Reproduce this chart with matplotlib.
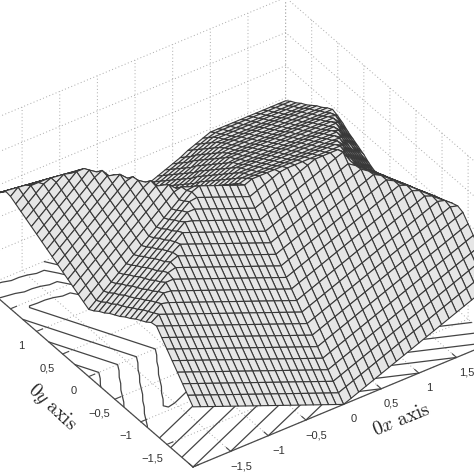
import matplotlib
matplotlib.use('Agg')
import matplotlib.pyplot as plt
from mpl_toolkits.mplot3d import proj3d
import numpy as np

x_ticks = [-2, -1.5, -1, -0.5, 0, 0.5, 1, 1.5, 2]
y_ticks = [-2, -1.5, -1, -0.5, 0, 0.5, 1, 1.5, 2]
z_ticks = [30, 63, 95, 128, 163]
x_labels = {-1.5: '\u22121,5', -1: '\u22121', -0.5: '\u22120,5', 0: '0', 0.5: '0,5', 1: '1', 1.5: '1,5'}
y_labels = {-1.5: '\u22121,5', -1: '\u22121', -0.5: '\u22120,5', 0: '0', 0.5: '0,5', 1: '1'}
contour_levels = [15, 30, 45, 60, 75, 90, 105, 120]

# surface heights, rows y = -2 ... 2, columns x = -2 ... 2 (step 0.1)
z_rows = [
[60,57,54,51,48,45,42,39,36,33,30,27,24,21,18,15,12,9,6,3,0,3,6,9,12,15,18,21,24,27,30,33,36,39,42,45,48,51,54,57,60],
[67,64,61,58,55,52,49,46,43,40,37,34,31,28,25,22,19,16,13,10,7,10,13,16,19,22,25,28,31,34,37,40,43,46,49,52,55,58,61,64,67],
[74,71,68,65,62,59,56,53,50,47,44,41,38,35,32,29,26,23,20,17,14,17,20,23,26,29,32,35,38,41,44,47,50,53,56,59,62,65,68,71,74],
[81,78,75,72,69,66,63,60,57,54,51,48,45,42,39,36,33,30,27,24,21,24,27,30,33,36,39,42,45,48,51,54,57,60,63,66,69,72,75,78,81],
[88,85,82,79,76,73,70,67,64,61,58,55,52,49,46,43,40,37,34,31,28,31,34,37,40,43,46,49,52,55,58,61,64,67,70,73,76,79,82,85,88],
[95,92,89,86,83,80,77,74,71,68,65,62,59,56,53,50,47,44,41,38,35,38,41,44,47,50,53,56,59,62,65,68,71,74,77,80,83,86,89,92,95],
[102,99,96,93,90,87,84,81,78,75,72,69,66,63,60,57,54,51,48,45,42,45,48,51,54,57,60,63,66,69,72,75,78,81,84,87,90,93,96,99,102],
[109,106,103,100,97,94,91,88,85,82,79,76,73,70,67,64,61,58,55,52,49,52,55,58,61,64,67,70,73,76,79,82,85,88,91,94,97,100,103,106,104],
[108,113,110,107,104,101,98,95,92,89,86,83,80,77,74,71,68,65,62,59,56,59,62,65,68,71,74,77,80,83,86,89,92,95,98,101,104,107,110,108,102],
[104,110,116,114,111,108,105,102,99,96,93,90,87,84,81,78,75,72,69,66,63,66,69,72,75,78,81,84,87,90,93,96,99,102,105,108,111,114,111,105,99],
[101,107,113,119,118,115,112,109,106,103,100,97,94,91,88,85,82,79,76,73,70,73,76,79,82,85,88,91,94,97,100,103,106,109,112,115,118,115,109,103,97],
[98,104,110,116,122,122,119,116,113,110,107,104,101,98,95,92,89,86,83,80,77,80,83,86,89,92,95,98,101,104,107,110,113,116,119,122,119,113,107,101,95],
[94,100,106,112,118,124,126,123,120,117,114,111,108,105,102,99,96,93,90,87,84,87,90,93,96,99,102,105,108,111,114,117,120,123,126,122,116,110,104,98,92],
[91,97,103,109,115,121,127,130,127,124,121,118,115,112,109,106,103,100,97,94,91,94,97,100,103,106,109,112,115,118,121,124,127,130,126,120,114,108,102,96,90],
[87,93,99,105,111,117,123,129,134,131,128,125,122,119,116,113,110,107,104,101,98,101,104,107,110,113,116,119,122,125,128,131,134,129,123,117,111,105,99,93,87],
[84,90,96,102,108,114,120,126,132,138,135,132,129,126,123,120,117,114,111,108,105,108,111,114,117,120,123,126,129,132,135,138,133,127,121,115,109,103,97,91,85],
[81,87,93,99,105,111,117,123,129,135,141,139,136,133,130,127,124,121,118,115,112,115,118,121,124,127,130,133,136,139,142,145,133,125,119,113,107,101,95,89,83],
[77,83,89,95,101,107,113,119,125,131,137,143,143,140,137,134,131,128,125,122,119,122,125,128,131,134,137,140,143,143,143,143,137,126,116,110,104,98,92,86,80],
[74,80,86,92,98,104,110,116,122,128,134,140,146,147,144,141,138,135,132,129,126,129,132,135,138,139,139,139,139,139,139,139,139,129,118,108,102,96,90,84,78],
[70,76,82,88,94,100,106,112,118,124,130,136,142,148,151,148,145,142,139,136,133,136,136,136,136,136,136,136,136,136,136,136,136,132,121,110,99,93,87,81,75],
[67,73,79,85,91,97,103,109,115,121,127,133,139,145,146,143,140,137,134,131,130,132,132,132,132,132,132,132,132,132,132,132,132,132,124,113,102,91,85,79,73],
[70,76,82,88,94,100,106,112,118,124,130,136,142,144,141,138,135,132,129,126,125,128,128,128,128,128,128,128,128,128,128,128,128,128,127,116,105,94,83,77,71],
[73,79,85,91,97,103,109,115,121,127,133,139,145,138,136,133,130,127,124,121,120,123,125,125,125,125,125,125,125,125,125,125,125,125,125,120,108,97,86,75,68],
[76,82,88,94,100,106,112,118,124,130,136,142,140,132,131,128,125,122,119,116,115,118,121,121,121,121,121,121,121,121,121,121,121,121,121,121,112,101,89,78,67],
[79,85,91,97,103,109,115,121,127,133,139,143,134,126,126,123,120,117,114,111,110,113,116,118,118,118,118,118,118,118,118,118,118,118,118,118,115,104,93,81,70],
[82,88,94,100,106,112,118,124,130,136,142,137,128,120,121,118,115,112,109,106,105,108,111,114,114,114,114,114,114,114,114,114,114,114,114,114,114,107,96,85,74],
[85,91,97,103,109,115,121,127,133,139,141,131,122,114,116,113,110,107,104,101,100,103,106,109,110,110,110,110,110,110,110,110,110,110,110,110,110,110,99,88,77],
[88,94,100,106,112,118,124,130,136,142,135,125,116,108,111,108,105,102,99,96,95,98,101,104,107,107,107,107,107,107,107,107,107,107,107,107,107,107,103,91,80],
[91,97,103,109,115,121,127,133,139,137,129,119,110,102,106,103,100,97,94,91,89,93,96,99,102,103,103,103,103,103,103,103,103,103,103,103,103,103,103,95,83],
[94,100,106,112,118,124,130,136,140,131,123,113,104,96,101,98,95,92,89,86,84,88,91,94,97,100,100,100,100,100,100,100,100,100,100,100,100,100,100,98,87],
[97,103,109,115,121,127,133,139,134,125,117,107,98,90,96,93,90,87,84,81,79,82,86,89,92,95,96,96,96,96,96,96,96,96,96,96,96,96,96,96,90],
[100,106,112,118,124,130,136,136,128,119,111,101,92,84,91,88,85,82,79,76,74,77,81,84,87,90,92,92,92,92,92,92,92,92,92,92,92,92,92,92,92],
[103,109,115,121,127,132,130,130,122,113,105,95,86,78,86,83,80,77,74,71,69,72,75,79,82,85,88,89,89,89,89,89,89,89,89,89,89,89,89,89,89],
[106,112,118,124,127,126,124,124,116,107,99,89,80,72,81,78,75,72,69,66,64,67,70,73,77,80,83,85,85,85,85,85,85,85,85,85,85,85,85,85,85],
[109,115,121,121,121,120,118,118,110,101,93,83,74,66,76,73,70,67,64,61,59,62,65,68,72,75,78,81,82,82,82,82,82,82,82,82,82,82,82,82,82],
[112,118,117,115,115,114,112,112,104,95,87,77,68,60,71,68,65,62,59,56,54,57,60,63,66,70,73,76,78,78,78,78,78,78,78,78,78,78,78,78,78],
[113,112,111,109,109,108,106,106,98,89,81,71,62,54,66,63,60,57,54,51,49,52,55,58,61,65,68,71,74,74,74,74,74,74,74,74,74,74,74,74,74],
[107,106,105,103,103,102,100,100,92,83,75,65,56,48,61,58,55,52,49,46,44,47,50,53,56,59,63,66,69,71,71,71,71,71,71,71,71,71,71,71,71],
[101,100,99,97,97,96,94,94,86,77,69,59,50,42,56,53,50,47,44,41,38,42,45,48,51,54,57,61,64,67,67,67,67,67,67,67,67,67,67,67,67],
[95,94,93,91,91,90,88,88,80,71,63,53,44,36,51,48,45,42,39,36,33,37,40,43,46,49,52,56,59,62,64,64,64,64,64,64,64,64,64,64,64],
[89,88,87,85,85,84,82,82,74,65,57,47,38,30,46,43,40,37,34,31,28,31,35,38,41,44,47,51,54,57,60,60,60,60,60,60,60,60,60,60,60],
]

plt.rcParams['font.family'] = ['Liberation Sans', 'DejaVu Sans']
plt.rcParams['mathtext.fontset'] = 'cm'
W = 474
fig = plt.figure(figsize=(W/100, W/100), dpi=100)
ax = fig.add_axes([0, 0, 1, 1], projection='3d', computed_zorder=False)
ax.set_proj_type('ortho')
ax.view_init(elev=36.9, azim=235.3)
ax.set_xlim(-2, 2, view_margin=0); ax.set_ylim(-2, 2, view_margin=0); ax.set_zlim(0, 163, view_margin=0)
ax.set_box_aspect((1, 1, 0.558))
ax.set_xticks(x_ticks); ax.set_yticks(y_ticks); ax.set_zticks(z_ticks)
ax.xaxis.set_major_formatter(plt.NullFormatter())
ax.yaxis.set_major_formatter(plt.NullFormatter())
ax.zaxis.set_major_formatter(plt.NullFormatter())
for a in (ax.xaxis, ax.yaxis, ax.zaxis):
    a.pane.set_visible(False)
    a._axinfo['grid'].update(color='#a8a8a8', linestyle=(0, (1, 2.5)), linewidth=0.7)
    a._axinfo['tick'].update(inward_factor=0, outward_factor=0.25)
    a.line.set_color('#4a4a4a'); a.line.set_linewidth(0.9)
ax.tick_params(colors='#4a4a4a', width=0.8)

Z = np.array(z_rows, dtype=float)
n = Z.shape[0]
xs = np.linspace(x_ticks[0], x_ticks[-1], n)
ys = np.linspace(y_ticks[0], y_ticks[-1], n)
X, Y = np.meshgrid(xs, ys)
ax.contour(X, Y, Z, levels=contour_levels, zdir='z', offset=0, colors='#444444', linewidths=0.9, zorder=1)
ax.plot_surface(X, Y, Z, rstride=1, cstride=1, color='#e6e6e6', shade=False,
                edgecolor='#383838', linewidth=0.8, antialiased=True, zorder=2)

def disp(p):
    ax.M = ax.get_proj()
    xd, yd, _ = proj3d.proj_transform(p[0], p[1], p[2], ax.M)
    return np.array(ax.transData.transform((xd, yd)))

O_t = np.array([193, W-467.]); X_t = np.array([493, W-339.])
for _ in range(3):
    O = disp((-2, -2, 0)); P = disp((2, -2, 0))
    s = np.linalg.norm(X_t-O_t)/np.linalg.norm(P-O)
    pos = ax.get_position()
    ax.set_position([pos.x0, pos.y0, pos.width*s, pos.height*s])
    O = disp((-2, -2, 0))
    pos = ax.get_position()
    ax.set_position([pos.x0+(O_t[0]-O[0])/W, pos.y0+(O_t[1]-O[1])/W, pos.width, pos.height])

for t, s_ in x_labels.items():
    q = disp((t, -2.2, -6))
    fig.text(q[0]/W, q[1]/W, s_, ha='center', va='center', fontsize=8, color='#333333')
for t, s_ in y_labels.items():
    q = disp((-2.2, t, -8))
    fig.text(q[0]/W, q[1]/W, s_, ha='center', va='center', fontsize=8, color='#333333')
fig.text(402/W, 1-420/W, r'$0x\ \mathrm{axis}$', rotation=22, ha='center', va='center', fontsize=14, color='#222222')
fig.text(52/W, 1-407/W, r'$0y\ \mathrm{axis}$', rotation=-43, ha='center', va='center', fontsize=14, color='#222222')
fig.savefig('out.png', dpi=100)
